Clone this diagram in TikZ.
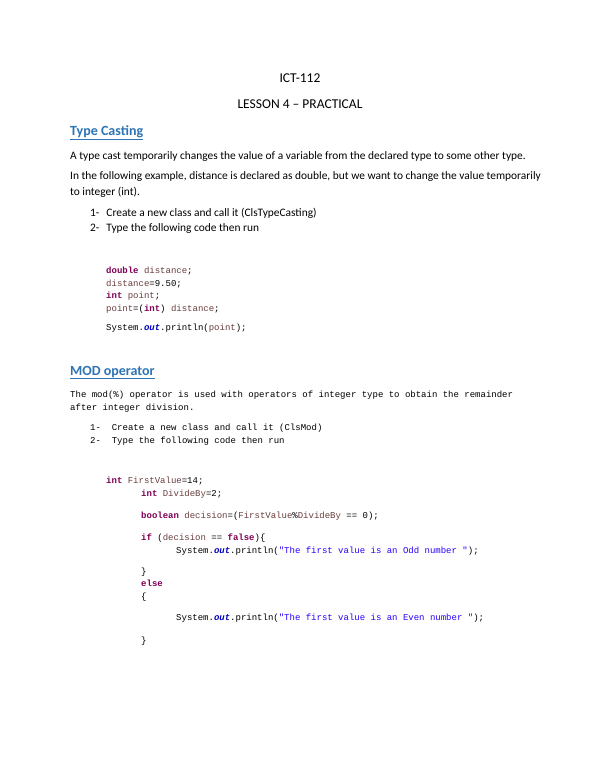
\documentclass[tikz,border=0pt]{standalone}
\usepackage{fontspec}
\setmainfont{Carlito}
\setmonofont{Liberation Mono}
\definecolor{head}{HTML}{2E74B5}
\definecolor{kwc}{HTML}{7F0055}
\definecolor{vrc}{HTML}{6A3E3E}
\definecolor{stc}{HTML}{2A00FF}
\definecolor{ouc}{HTML}{0000C0}
\newcommand{\kwx}[1]{\textcolor{kwc}{\bfseries #1}}
\newcommand{\vrx}[1]{\textcolor{vrc}{#1}}
\newcommand{\stx}[1]{\textcolor{stc}{#1}}
\newcommand{\oux}[1]{\textcolor{ouc}{\bfseries\itshape #1}}
\begin{document}
\begin{tikzpicture}[x=1pt,y=1pt,
  body/.style={anchor=base west,inner sep=0,font=\fontsize{11.4}{13}\selectfont},
  mono/.style={anchor=base west,inner sep=0,font=\fontsize{9}{11}\ttfamily},
  hd/.style={anchor=base west,inner sep=0,font=\fontsize{14}{16}\selectfont\bfseries,text=head},
  ttl/.style={anchor=base,inner sep=0,font=\fontsize{13.5}{15}\selectfont}]
\useasboundingbox[fill=white] (0,0) rectangle (600,-776);
\node[ttl] (t1) at (300,-82) {ICT-112};
\node[ttl] (t2) at (300,-108) {LESSON 4 – PRACTICAL};
\node[hd] (h1) at (70,-135) {\underline{Type Casting}};
\node[body] (p1) at (70,-159) {A type cast temporarily changes the value of a variable from the declared type to some other type.};
\node[body] (p2) at (70,-179) {In the following example,\ distance is declared as double,\ but we want to change the value temporarily};
\node[body] (p3) at (70,-195) {to integer (int).};
\node[body] (l1) at (90,-216) {1-\hspace{7pt}Create a new class and call it (ClsTypeCasting)};
\node[body] (l2) at (90,-231) {2-\hspace{7pt}Type the following code then run};
\node[mono] (c1) at (106,-273) {\kwx{double} \vrx{distance};};
\node[mono] (c2) at (106,-286) {\vrx{distance}=9.50;};
\node[mono] (c3) at (106,-298) {\kwx{int} \vrx{point};};
\node[mono] (c4) at (106,-311) {\vrx{point}=(\kwx{int}) \vrx{distance};};
\node[mono] (c5) at (106,-330) {System.\oux{out}.println(\vrx{point});};
\node[hd] (h2) at (70,-375) {\underline{MOD operator}};
\node[mono] (m1) at (70,-397) {The mod(\%) operator is used with operators of integer type to obtain the remainder};
\node[mono] (m2) at (70,-410) {after integer division.};
\node[mono] (m3) at (90,-430) {1-\ \ Create a new class and call it (ClsMod)};
\node[mono] (m4) at (90,-443) {2-\ \ Type the following code then run};
\node[mono] (d1) at (106,-483) {\kwx{int} \vrx{FirstValue}=14;};
\node[mono] (d2) at (141,-496) {\kwx{int} \vrx{DivideBy}=2;};
\node[mono] (d3) at (141,-518) {\kwx{boolean} \vrx{decision}=(\vrx{FirstValue}\%\vrx{DivideBy} == 0);};
\node[mono] (d4) at (141,-540) {\kwx{if} (\vrx{decision} == \kwx{false})\{};
\node[mono] (d5) at (176,-553) {System.\oux{out}.println(\stx{"The first value is an Odd number "});};
\node[mono] (d6) at (141,-574) {\}};
\node[mono] (d7) at (141,-586) {\kwx{else}};
\node[mono] (d8) at (141,-599) {\{};
\node[mono] (d9) at (176,-620) {System.\oux{out}.println(\stx{"The first value is an Even number "});};
\node[mono] (d10) at (141,-643) {\}};
\end{tikzpicture}
\end{document}
